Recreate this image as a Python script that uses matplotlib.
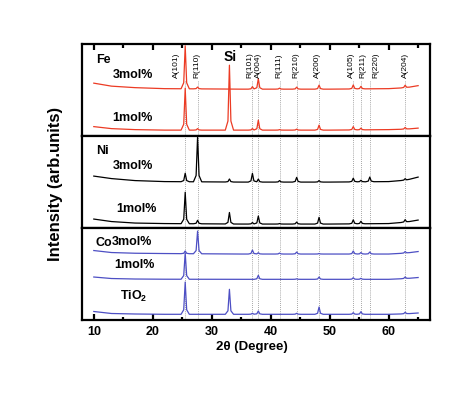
import numpy as np
import matplotlib
matplotlib.use("Agg")
import matplotlib.pyplot as plt
from matplotlib.ticker import MultipleLocator

plt.rcParams["font.family"] = ["Liberation Sans", "DejaVu Sans"]
plt.rcParams["mathtext.fontset"] = "custom"
plt.rcParams["mathtext.bf"] = "Liberation Sans:bold"
plt.rcParams["mathtext.rm"] = "Liberation Sans"

# reference reflections (2theta, deg) as drawn by the dotted guides
ref_names = ["A(101)", "R(110)", "R(101)", "A(004)", "R(111)", "R(210)",
             "A(200)", "A(105)", "R(211)", "R(220)", "A(204)"]
ref_tth = [25.5, 27.6, 36.9, 37.9, 41.5, 44.4, 48.2, 54.0, 55.3, 56.8, 62.8]
si_tth = 33.0

# peak positions shared by all patterns
peak_tth = [25.5, 27.6, 33.0, 36.9, 37.9, 41.5, 44.4, 48.2, 54.0, 55.3, 56.8, 62.8]

# baselines (2theta, intensity in panel units)
base_tth = [10, 13, 17, 22, 35, 50, 60, 63, 65]
fe3_base = [53, 50, 48.5, 47.5, 47, 47, 47.5, 48.5, 50.5]
fe1_base = [9.5, 7.5, 6.5, 6, 6, 6, 6.5, 7, 8]
ni3_base = [52, 49.5, 47.5, 46.5, 46, 46, 46.5, 48, 51]
ni1_base = [9, 6.5, 5, 4.5, 4, 4, 4.5, 6, 8]
co3_base = [69.5, 67.5, 66.8, 66.5, 66, 66, 66, 67, 68.5]
co1_base = [43, 41.5, 41, 40.8, 40.7, 40.7, 40.7, 41.5, 42.5]
tio2_base = [8.5, 6.5, 6, 5.7, 5.7, 5.7, 5.7, 6.2, 7]

# peak heights above baseline, in order of peak_tth
fe3_peaks = [43, 1.8, 0, 2.5, 10.5, 1, 2, 4, 4, 2.5, 0, 2.5]
fe1_peaks = [42, 1.5, 65, 1.5, 10, 0.5, 1, 5, 3.3, 1.7, 0, 1.7]
ni3_peaks = [8.5, 45, 3, 8.7, 3, 1.5, 4.7, 1.5, 3.7, 1.5, 4.7, 1.5]
ni1_peaks = [31.5, 3.5, 11.5, 1.5, 8, 0.5, 2, 6.7, 4, 2.5, 0, 2.5]
co3_peaks = [2.7, 22.7, 0, 4, 1.3, 1, 2, 0.5, 3, 1.5, 2, 1.5]
co1_peaks = [26.3, 0, 0, 0, 4, 0, 0.5, 2.3, 1.6, 1, 0, 1.6]
tio2_peaks = [32.3, 0, 25, 1, 3.3, 0, 1, 7.3, 1.6, 2.6, 0, 1.6]


def pattern(base, heights):
    """Piecewise-linear trace: baseline plus sharp peaks."""
    dx = np.array([-0.7, -0.25, 0.0, 0.25, 0.7])
    frac = np.array([0.0, 0.14, 1.0, 0.14, 0.0])
    x = list(base_tth)
    for p in peak_tth:
        x.extend(p + dx)
    x = np.unique(x)
    y = np.interp(x, base_tth, base)
    for p, h in zip(peak_tth, heights):
        y += h * np.interp(x, p + dx, frac, left=0, right=0)
    return x, y


red = "#ec3b24"
blue = "#4d4fc4"
guide = "#8a8a8a"

fig = plt.figure(figsize=(4.74, 3.98), dpi=100)
axes = fig.subplots(3, 1, sharex=True, gridspec_kw=dict(hspace=0))
fig.subplots_adjust(left=0.173, right=0.907, top=0.889, bottom=0.196)

panels = [
    [(fe3_base, fe3_peaks, red), (fe1_base, fe1_peaks, red)],
    [(ni3_base, ni3_peaks, "black"), (ni1_base, ni1_peaks, "black")],
    [(co3_base, co3_peaks, blue), (co1_base, co1_peaks, blue),
     (tio2_base, tio2_peaks, blue)],
]

for i, (ax, traces) in enumerate(zip(axes, panels)):
    for t in ref_tth:
        ax.axvline(t, ymax=0.61 if i == 0 else 1.0, color=guide,
                   ls=(0, (1, 1.5)), lw=0.6, zorder=1)
    for base, peaks, c in traces:
        x, y = pattern(base, peaks)
        ax.plot(x, y, color=c, lw=0.9, zorder=2)
    ax.set_ylim(0, 92)
    ax.set_yticks([])
    for s in ax.spines.values():
        s.set_linewidth(1.6)
    ax.tick_params(axis="x", which="both", bottom=False, top=False,
                   labelbottom=False, direction="in")

ax = axes[2]
ax.set_xlim(8, 67)
ax.xaxis.set_major_locator(MultipleLocator(10))
ax.xaxis.set_minor_locator(MultipleLocator(5))
ax.tick_params(axis="x", which="both", bottom=True, labelbottom=True,
               width=1.6, pad=4)
ax.tick_params(axis="x", which="major", length=4)
ax.tick_params(axis="x", which="minor", length=2.5)
for lab in ax.get_xticklabels():
    lab.set_fontweight("bold")
    lab.set_fontsize(9)
axes[0].tick_params(axis="x", which="both", top=True, width=1.6)
axes[0].tick_params(axis="x", which="major", length=4)
axes[0].tick_params(axis="x", which="minor", length=3)

# peak labels
label_dx = [-1.5, -0.2, -0.5, 0.05, -0.1, -0.2, -0.2, -0.25, 0.3, 1.0, 0.0]
for name, t, d in zip(ref_names, ref_tth, label_dx):
    axes[0].text(t + d, 58, name, rotation=90, ha="center", va="bottom",
                 fontsize=6)
axes[0].text(si_tth + 0.1, 79, "Si", ha="center", va="center",
             fontsize=10, fontweight="bold")

txt = dict(fontsize=9, fontweight="bold", va="center")
axes[0].text(10.4, 76, "Fe", ha="left", **txt)
axes[0].text(16.7, 61, "3mol%", ha="center", **txt)
axes[0].text(16.5, 18, "1mol%", ha="center", **txt)
axes[1].text(10.4, 77, "Ni", ha="left", **txt)
axes[1].text(16.6, 62.5, "3mol%", ha="center", **txt)
axes[1].text(17.2, 19, "1mol%", ha="center", **txt)
axes[2].text(10.3, 77, "Co", ha="left", **txt)
axes[2].text(13.1, 78, "3mol%", ha="left", **txt)
axes[2].text(16.9, 55.5, "1mol%", ha="center", **txt)
axes[2].text(16.7, 24, r"TiO$_\mathbf{2}$", ha="center", **txt)

fig.text(56 / 474, 1 - 184 / 398, "Intensity (arb.units)", rotation=90,
         ha="center", va="center", fontsize=12, fontweight="bold")
fig.text(252 / 474, 1 - 347 / 398, "2θ (Degree)", ha="center",
         va="center", fontsize=9.5, fontweight="bold")

fig.savefig("out.png", dpi=100)
